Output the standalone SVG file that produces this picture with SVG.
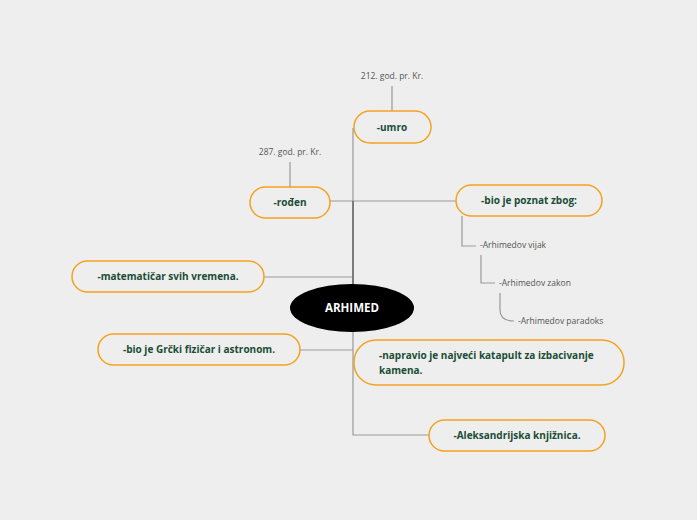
<svg xmlns="http://www.w3.org/2000/svg" width="697" height="520" viewBox="0 0 697 520">
<style>
.n{fill:#fff0;stroke:#f5a21f;stroke-width:1.5}
.t{font-family:"Open Sans",sans-serif;font-size:10px;font-weight:bold;fill:#1b4d36;text-anchor:middle}
.s{font-family:"Open Sans",sans-serif;font-size:8.5px;fill:#555}
.c{fill:none;stroke:#999;stroke-width:1.2}
</style>
<rect width="697" height="520" fill="#eeeeee"/>
<g id="connectors">
<path class="c" d="M353,128V435H429M330,201H456M264,277H353M300,350H353M392,86V111M290,162V187"/>
<path class="c" d="M462,216V246H476M481,255V283H495M500,293V310Q500,321 514,321"/>
<path d="M353,201V284" stroke="#666" stroke-width="1.5"/>
</g>
<g id="center"><ellipse cx="352" cy="308" rx="62" ry="24" fill="#000"/><text class="t" x="352" y="312" fill="#fff" style="fill:#fff;font-size:11.5px">ARHIMED</text></g>
<g id="umro"><rect class="n" x="354" y="111" width="77" height="32" rx="16"/><text class="t" x="392" y="131">-umro</text></g>
<text class="s" x="392" y="79" text-anchor="middle">212. god. pr. Kr.</text>
<g id="roden"><rect class="n" x="250" y="187" width="80" height="31" rx="15.5"/><text class="t" x="290" y="206">-rođen</text></g>
<text class="s" x="290" y="155" text-anchor="middle">287. god. pr. Kr.</text>
<g id="poznat"><rect class="n" x="456" y="185" width="146" height="31" rx="15.5"/><text class="t" x="529" y="204">-bio je poznat zbog:</text></g>
<text class="s" x="480" y="248">-Arhimedov vijak</text>
<text class="s" x="499" y="286">-Arhimedov zakon</text>
<text class="s" x="518" y="324">-Arhimedov paradoks</text>
<g id="matematicar"><rect class="n" x="72" y="261" width="192" height="31" rx="15.5"/><text class="t" x="168" y="280">-matematičar svih vremena.</text></g>
<g id="fizicar"><rect class="n" x="98" y="334" width="202" height="31" rx="15.5"/><text class="t" x="199" y="353">-bio je Grčki fizičar i astronom.</text></g>
<g id="katapult"><rect class="n" x="354" y="340" width="270" height="45" rx="22"/><text class="t" x="379" y="359" text-anchor="start" style="text-anchor:start">-napravio je najveći katapult za izbacivanje</text><text class="t" x="379" y="374" style="text-anchor:start">kamena.</text></g>
<g id="knjiznica"><rect class="n" x="429" y="420" width="176" height="31" rx="15.5"/><text class="t" x="517" y="439">-Aleksandrijska knjižnica.</text></g>
</svg>
